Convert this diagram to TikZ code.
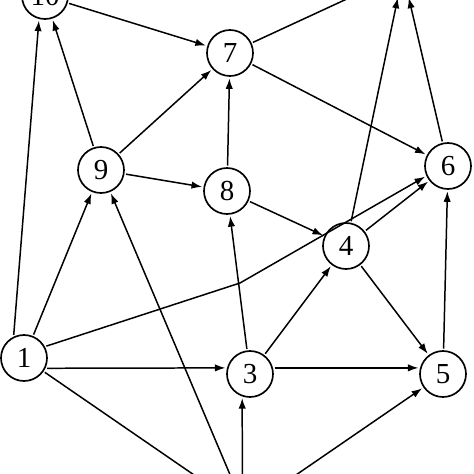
\documentclass[tikz,border=0pt]{standalone}
\usepackage{fontspec}
\setmainfont{Liberation Serif}
\usetikzlibrary{arrows.meta}
\begin{document}
\begin{tikzpicture}[x=0.02cm,y=-0.02cm,
  vtx/.style={circle,draw,line width=0.95pt,minimum size=0.92cm,inner sep=0pt,outer sep=1.3pt,font=\fontsize{16.5}{18}\selectfont},
  arr/.style={line width=0.85pt,-{Latex[length=6pt,width=4.2pt]}},
  ln/.style={line width=0.85pt}]
\useasboundingbox (0,0) rectangle (474,474);
\clip (0,0) rectangle (474,474);
\node[vtx] (n10) at (45,-4) {10};
\node[vtx] (nX) at (403,-27) {};
\node[vtx] (n7) at (230,53) {7};
\node[vtx] (n9) at (101,170) {9};
\node[vtx] (n8) at (227,191) {8};
\node[vtx] (n6) at (448,166) {6};
\node[vtx] (n4) at (346,246) {4};
\node[vtx] (n1) at (24,358) {1};
\node[vtx] (n3) at (250,374) {3};
\node[vtx] (n5) at (443,374) {5};
\node[vtx] (n2) at (245,510) {};
\coordinate (b1) at (240,283);
% edges
\draw[arr] (n10) -- (n7);
\draw[arr] (n1.114) -- (n10.256);
\draw[arr] (n9) -- (n10);
\draw[arr] (n9) -- (n7);
\draw[arr] (n7) -- (nX);
\draw[arr] (n7) -- (n6);
\draw[arr] (n8) -- (n7);
\draw[arr] (n9) -- (n8);
\draw[arr] (n8) -- (n4);
\draw[arr] (n1) -- (n9);
\draw[arr] (n1.28) -- (b1) -- (n6.205);
\draw[arr] (n4) -- (n6);
\draw[arr] (n4) -- (nX);
\draw[arr] (n6) -- (nX);
\draw[arr] (n5) -- (n6);
\draw[arr] (n4) -- (n5);
\draw[arr] (n3) -- (n4);
\draw[arr] (n3) -- (n8);
\draw[arr] (n3.14) -- (n5.166);
\draw[arr] (n1.-24) -- (n3.166);
\draw[arr] (n1) -- (n2);
\draw[arr] (n2) -- (n9);
\draw[arr] (n2.96) -- (n3.252);
\draw[arr] (n2) -- (n5);
\end{tikzpicture}
\end{document}
